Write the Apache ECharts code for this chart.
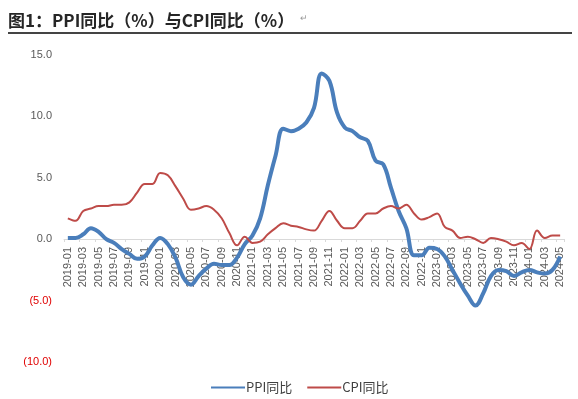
<!DOCTYPE html>
<html><head><meta charset="utf-8">
<script src="https://cdn.jsdelivr.net/npm/echarts@6/dist/echarts.min.js"></script>
<style>html,body{margin:0;padding:0;background:#fff}#c{width:578px;height:399px}</style>
</head><body><div id="c"></div>
<script>
var months = [];
for (var y = 2019; y <= 2024; y++) { for (var m = 1; m <= 12; m++) { if (y === 2024 && m > 5) break; months.push(y + '-' + (m < 10 ? '0' + m : m)); } }
var ppi = [0.1,0.1,0.4,0.9,0.6,0.0,-0.3,-0.8,-1.2,-1.6,-1.4,-0.5,
  0.1,-0.4,-1.5,-3.1,-3.7,-3.0,-2.4,-2.0,-2.1,-2.1,-1.5,-0.4,
  0.3,1.7,4.4,6.8,9.0,8.8,9.0,9.5,10.7,13.5,12.9,10.3,
  9.1,8.8,8.3,8.0,6.4,6.1,4.2,2.3,0.9,-1.3,-1.3,-0.7,
  -0.8,-1.4,-2.5,-3.6,-4.6,-5.4,-4.4,-3.0,-2.5,-2.6,-3.0,-2.7,
  -2.5,-2.7,-2.8,-2.5,-1.4];
var cpi = [1.7,1.5,2.3,2.5,2.7,2.7,2.8,2.8,3.0,3.8,4.5,4.5,
  5.4,5.2,4.3,3.3,2.4,2.5,2.7,2.4,1.7,0.5,-0.5,0.2,
  -0.3,-0.2,0.4,0.9,1.3,1.1,1.0,0.8,0.7,1.5,2.3,1.5,
  0.9,0.9,1.5,2.1,2.1,2.5,2.7,2.5,2.8,2.1,1.6,1.8,
  2.1,1.0,0.7,0.1,0.2,0.0,-0.3,0.1,0.0,-0.2,-0.5,-0.3,
  -0.8,0.7,0.1,0.3,0.3];
var chart = echarts.init(document.getElementById('c'));
chart.setOption({
  animation: false,
  title: { text: '图1：PPI同比（%）与CPI同比（%）', left: 3, top: 7,
    textStyle: { fontSize: 17, fontWeight: 'bold', color: '#262626', fontFamily: 'Noto Sans CJK SC' } },
  graphic: [
    { type: 'line', shape: { x1: 8, y1: 33, x2: 572, y2: 33 }, style: { stroke: '#444', lineWidth: 2 } },
    { type: 'text', left: 300, top: 14, style: { text: '↵', fontSize: 9, fill: '#999' } }
  ],
  legend: { bottom: 0, left: 205, itemWidth: 34, itemHeight: 14, itemGap: 14,
    itemStyle: { opacity: 0 },
    textStyle: { fontSize: 13, color: '#404040', fontFamily: 'Noto Sans CJK SC', padding: [0, 0, 0, -4] },
    data: ['PPI同比', 'CPI同比'] },
  grid: { left: 64, right: 14, top: 55, bottom: 37, outerBoundsMode: 'none', containLabel: false },
  xAxis: { type: 'category', data: months, boundaryGap: true,
    axisLine: { onZero: false, lineStyle: { color: '#d9d9d9', width: 1 } },
    offset: -123,
    axisTick: { show: true, interval: 1, length: 3, lineStyle: { color: '#d9d9d9' } },
    axisLabel: { rotate: 90, interval: 1, fontSize: 11, color: '#595959', fontFamily: 'Liberation Sans' } },
  yAxis: { type: 'value', min: -10, max: 15, interval: 5,
    splitLine: { show: false }, axisLine: { show: false }, axisTick: { show: false },
    axisLabel: { fontSize: 11, fontFamily: 'Liberation Sans', margin: 12,
      color: function (v) { return v < 0 ? '#e00000' : '#595959'; },
      formatter: function (v) { return v < 0 ? '(' + (-v).toFixed(1) + ')' : v.toFixed(1); } } },
  series: [
    { name: 'PPI同比', type: 'line', data: ppi, smooth: 0.4, symbol: 'none',
      lineStyle: { color: '#4a7ebb', width: 4 }, itemStyle: { color: '#4a7ebb' } },
    { name: 'CPI同比', type: 'line', data: cpi, smooth: 0.4, symbol: 'none',
      lineStyle: { color: '#be4b48', width: 2 }, itemStyle: { color: '#be4b48' } }
  ]
});
</script></body></html>
